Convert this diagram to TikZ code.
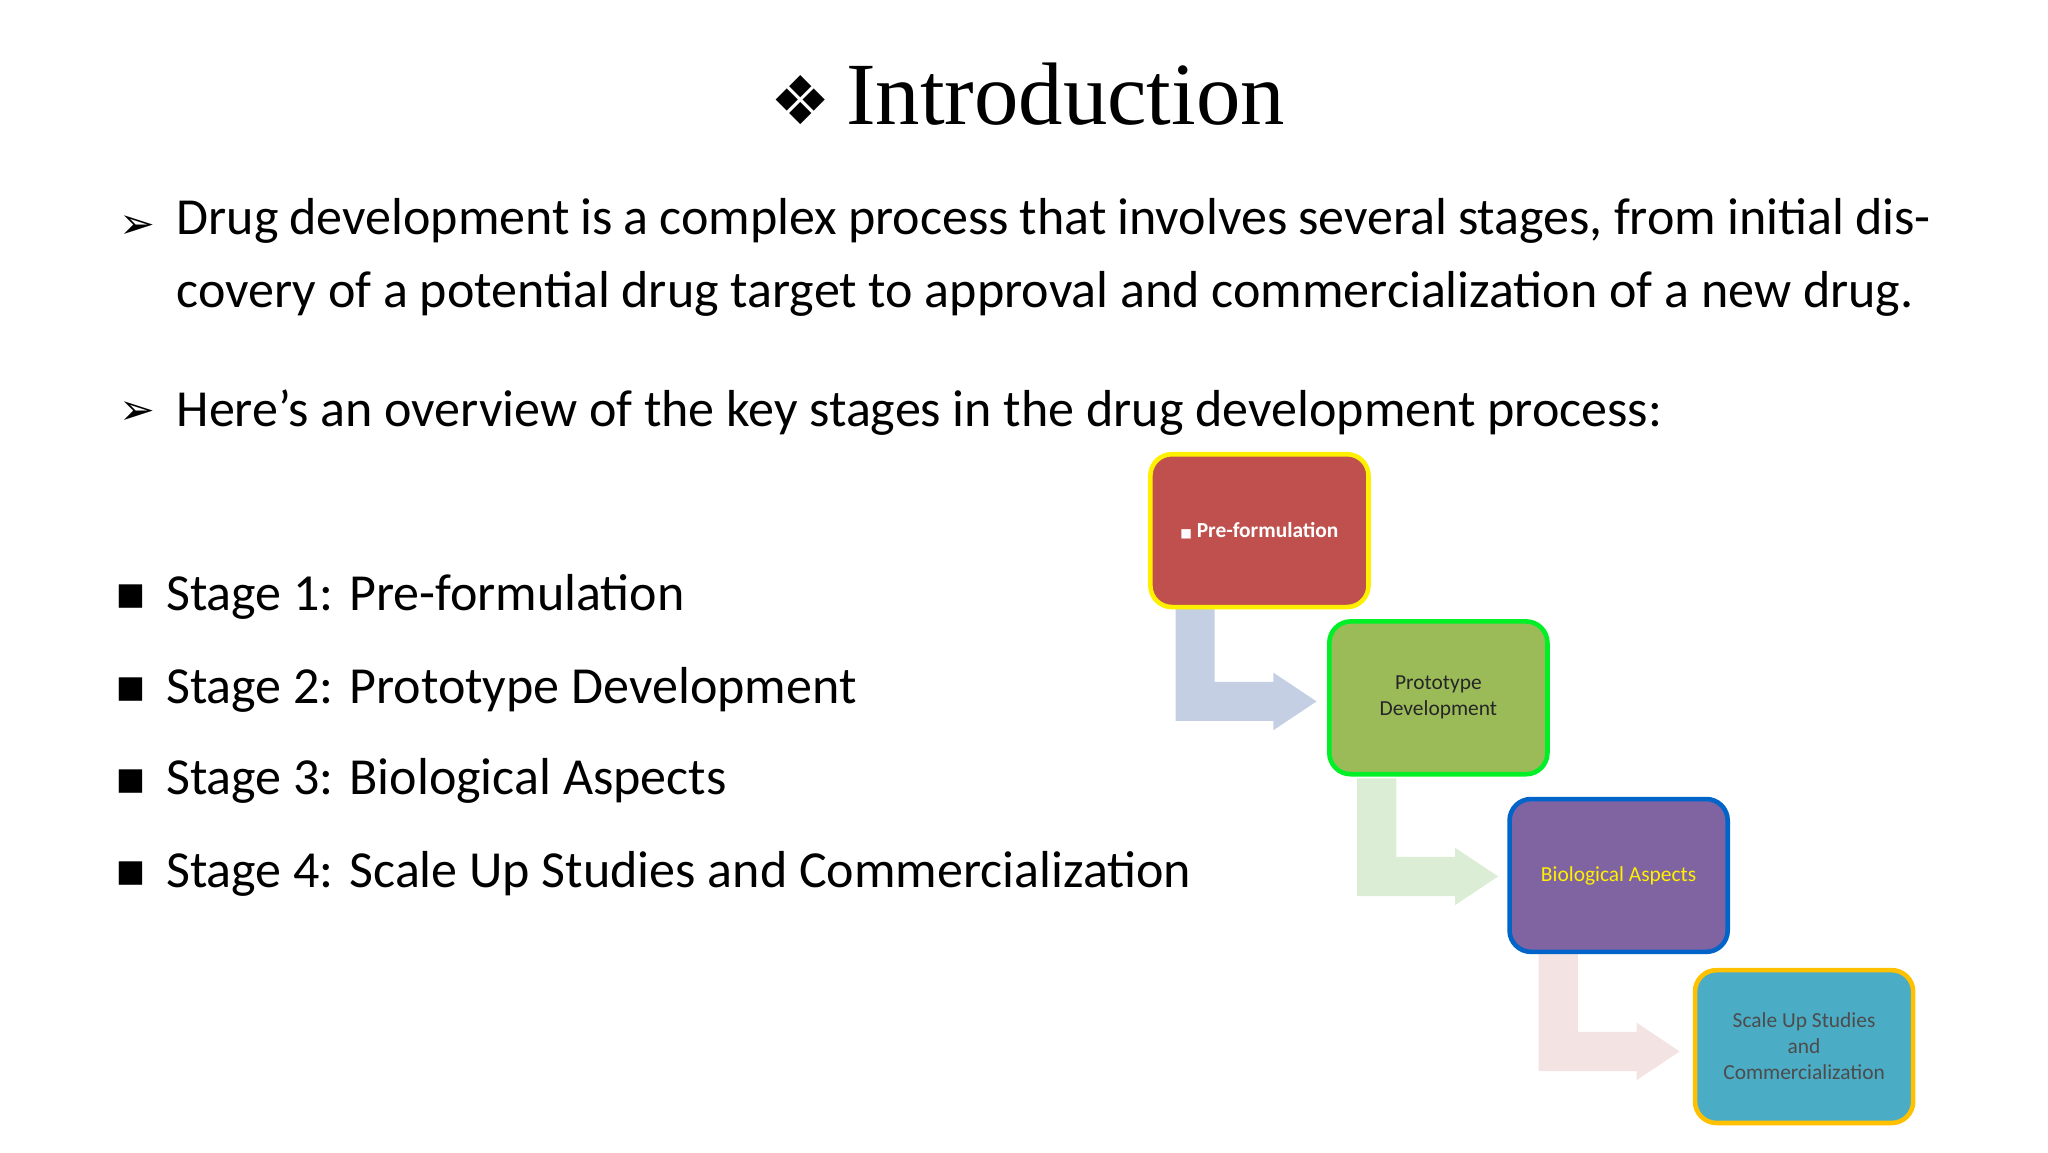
\documentclass[tikz,border=0pt]{standalone}
\usepackage{fontspec}
\setmainfont{Carlito}
\newfontfamily\serifT{Liberation Serif}
\newfontfamily\dejavu{DejaVu Sans}
\definecolor{bx1}{HTML}{C0504D}\definecolor{bx2}{HTML}{9BBB59}
\definecolor{bx3}{HTML}{8064A2}\definecolor{bx4}{HTML}{4BACC6}
\definecolor{ar1}{HTML}{C5CFE3}\definecolor{ar2}{HTML}{DCEDD5}\definecolor{ar3}{HTML}{F3E3E3}
\tikzset{
 stagebox/.style={rounded corners=14pt,line width=3pt,minimum width=167*0.03cm,minimum height=117*0.03cm,anchor=north west,align=center,font=\fontsize{14}{17}\selectfont},
 bodytxt/.style={anchor=west,inner sep=0,font=\fontsize{34}{40}\selectfont},
 bent/.style={draw=none}
}
\begin{document}
\begin{tikzpicture}[x=0.03cm,y=-0.03cm]
\useasboundingbox (0,0) rectangle (1568,882);
\node (title) at (787,72) {\fontsize{58}{64}\selectfont{\dejavu\fontsize{44}{50}\selectfont ❖}\,{\serifT Introduction}};
\node (b1) at (105,174) {\dejavu\fontsize{28}{30}\selectfont ➢};
\node (p1) [anchor=north west,inner sep=0,text width=1343*0.03cm,align=justify,font=\fontsize{34}{47.5}\selectfont] at (135,152) {Drug development is a complex process that involves several stages, from initial discovery of a potential drug target to approval and commercialization of a new drug.};
\node (b2) at (105,316) {\dejavu\fontsize{28}{30}\selectfont ➢};
\node (p2) [bodytxt] at (135,316) {Here's an overview of the key stages in the drug development process:};
\foreach \yy/\tt [count=\i] in {457/Stage 1: Pre-formulation,528/Stage 2: Prototype Development,598/Stage 3: Biological Aspects,669/Stage 4: Scale Up Studies and Commercialization}{
 \node (sq\i) at (100,\yy) {\dejavu\fontsize{20}{22}\selectfont ■};
 \node (s\i) [bodytxt] at (127,\yy) {\tt};
}
% bent arrows
\foreach \dx/\dy/\c in {0/0/ar1,139/134/ar2,278/268/ar3}{
 \fill[\c,shift={(\dx*0.03cm,-\dy*0.03cm)}] (900,462) -- (930,462) -- (930,522) -- (975,522) -- (975,515) -- (1008,537) -- (975,559) -- (975,552) -- (900,552) -- cycle;
}
\node (n1) [stagebox,draw={rgb,255:red,255;green,240;blue,0},fill=bx1,text=white,font=\fontsize{14}{17}\bfseries\selectfont] at (879,346) {{\dejavu\fontsize{8}{8}\selectfont ■}\ Pre-formulation};
\node (n2) [stagebox,draw={rgb,255:red,0;green,240;blue,40},fill=bx2,text=black!85] at (1016,474) {Prototype\\Development};
\node (n3) [stagebox,draw={rgb,255:red,0;green,100;blue,200},fill=bx3,text={rgb,255:red,255;green,240;blue,0}] at (1154,610) {Biological Aspects};
\node (n4) [stagebox,draw={rgb,255:red,255;green,192;blue,0},fill=bx4,text=black!70] at (1296,741) {Scale Up Studies\\and\\Commercialization};
\end{tikzpicture}
\end{document}
